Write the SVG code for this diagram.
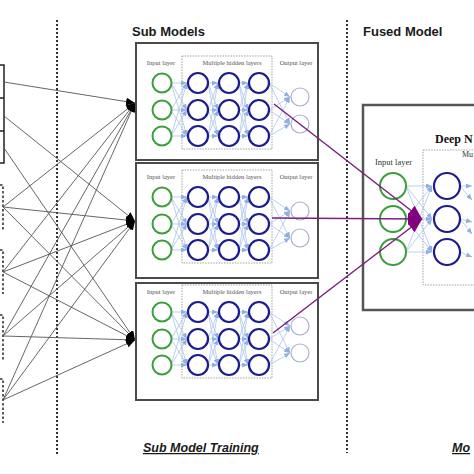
<svg xmlns="http://www.w3.org/2000/svg" xmlns:xlink="http://www.w3.org/1999/xlink" width="474" height="474" viewBox="0 0 474 474">
<style>
.bg{fill:#ffffff}
.title{font-family:"Liberation Sans",Arial,sans-serif;font-weight:bold;font-size:13px;fill:#1a1a1a}
.foot{font-family:"Liberation Sans",Arial,sans-serif;font-weight:bold;font-style:italic;font-size:12.5px;fill:#1a1a1a;text-decoration:underline}
.sep{stroke:#333;stroke-width:2;stroke-dasharray:2 2;fill:none}
.src{stroke:#222;stroke-width:1.5;fill:none}
.srcd{stroke:#333;stroke-width:1.6;stroke-dasharray:2.5 2;fill:none}
.box{fill:#fff;stroke:#4a4a4a;stroke-width:2}
.fbox{fill:#fff;stroke:#555;stroke-width:2.5}
.hbox{fill:none;stroke:#8a8a8a;stroke-width:0.8;stroke-dasharray:1.5 1.2}
.inp{fill:#fff;stroke:#3c9e3c;stroke-width:2}
.hid{fill:#fff;stroke:#1c1c8e;stroke-width:2.2}
.out{fill:#fff;stroke:#aab0cc;stroke-width:1.2}
.lbl{font-family:"Liberation Serif","Times New Roman",serif;font-size:6.5px;fill:#555;text-anchor:middle}
.flbl{font-family:"Liberation Serif","Times New Roman",serif;font-size:8.5px;fill:#333}
.ftitle{font-family:"Liberation Serif","Times New Roman",serif;font-weight:bold;font-size:12px;fill:#111}
.nn{stroke:#a9c3e8;stroke-width:0.8;fill:none;marker-end:url(#ab)}
.feed{stroke:#555;stroke-width:0.9;fill:none;marker-end:url(#ak)}
.fuse{stroke:#7d1f7d;stroke-width:1.5;fill:none;marker-end:url(#ap)}
</style>
<defs>
<marker id="ak" markerUnits="userSpaceOnUse" markerWidth="9" markerHeight="8" refX="9" refY="4" orient="auto">
<path d="M0,0 L9,4 L0,8 z" fill="#000"/>
</marker>
<marker id="ap" markerUnits="userSpaceOnUse" markerWidth="14" markerHeight="12" refX="14" refY="6" orient="auto">
<path d="M0,0 L14,6 L0,12 z" fill="#800080"/>
</marker>
<marker id="ab" markerUnits="userSpaceOnUse" markerWidth="6" markerHeight="5" refX="6" refY="2.5" orient="auto">
<path d="M0,0 L6,2.5 L0,5 z" fill="#8fb0e0"/>
</marker>
<g id="subnet">
<rect class="hbox" x="182" y="-27" width="90" height="93"/>
<text class="lbl" x="161" y="-18">Input layer</text>
<text class="lbl" x="232" y="-18">Multiple  hidden layers</text>
<text class="lbl" x="296" y="-18">Output layer</text>
<line class="nn" x1="171" y1="0" x2="187" y2="0"/><line class="nn" x1="171" y1="0" x2="187" y2="27"/><line class="nn" x1="171" y1="0" x2="187" y2="53"/>
<line class="nn" x1="171" y1="27" x2="187" y2="0"/><line class="nn" x1="171" y1="27" x2="187" y2="27"/><line class="nn" x1="171" y1="27" x2="187" y2="53"/>
<line class="nn" x1="171" y1="53" x2="187" y2="0"/><line class="nn" x1="171" y1="53" x2="187" y2="27"/><line class="nn" x1="171" y1="53" x2="187" y2="53"/>
<line class="nn" x1="208" y1="0" x2="218" y2="0"/><line class="nn" x1="208" y1="0" x2="218" y2="27"/><line class="nn" x1="208" y1="0" x2="218" y2="53"/>
<line class="nn" x1="208" y1="27" x2="218" y2="0"/><line class="nn" x1="208" y1="27" x2="218" y2="27"/><line class="nn" x1="208" y1="27" x2="218" y2="53"/>
<line class="nn" x1="208" y1="53" x2="218" y2="0"/><line class="nn" x1="208" y1="53" x2="218" y2="27"/><line class="nn" x1="208" y1="53" x2="218" y2="53"/>
<line class="nn" x1="239" y1="0" x2="248" y2="0"/><line class="nn" x1="239" y1="0" x2="248" y2="27"/><line class="nn" x1="239" y1="0" x2="248" y2="53"/>
<line class="nn" x1="239" y1="27" x2="248" y2="0"/><line class="nn" x1="239" y1="27" x2="248" y2="27"/><line class="nn" x1="239" y1="27" x2="248" y2="53"/>
<line class="nn" x1="239" y1="53" x2="248" y2="0"/><line class="nn" x1="239" y1="53" x2="248" y2="27"/><line class="nn" x1="239" y1="53" x2="248" y2="53"/>
<line class="nn" x1="269" y1="0" x2="290" y2="14"/><line class="nn" x1="269" y1="0" x2="290" y2="41"/>
<line class="nn" x1="269" y1="27" x2="290" y2="14"/><line class="nn" x1="269" y1="27" x2="290" y2="41"/>
<line class="nn" x1="269" y1="53" x2="290" y2="14"/><line class="nn" x1="269" y1="53" x2="290" y2="41"/>
<circle class="inp" cx="162" cy="0" r="9.5"/><circle class="inp" cx="162" cy="27" r="9.5"/><circle class="inp" cx="162" cy="53" r="9.5"/>
<circle class="hid" cx="198" cy="0" r="10"/><circle class="hid" cx="198" cy="27" r="10"/><circle class="hid" cx="198" cy="53" r="10"/>
<circle class="hid" cx="229" cy="0" r="10"/><circle class="hid" cx="229" cy="27" r="10"/><circle class="hid" cx="229" cy="53" r="10"/>
<circle class="hid" cx="259" cy="0" r="10"/><circle class="hid" cx="259" cy="27" r="10"/><circle class="hid" cx="259" cy="53" r="10"/>
<circle class="out" cx="300" cy="14" r="9"/><circle class="out" cx="300" cy="41" r="9"/>
</g>
</defs>
<rect class="bg" x="0" y="0" width="474" height="474"/>

<g id="separators">
<line class="sep" x1="57" y1="20" x2="57" y2="455"/>
<line class="sep" x1="347" y1="20" x2="347" y2="453"/>
</g>

<g id="titles">
<text class="title" x="132" y="36">Sub Models</text>
<text class="title" x="363" y="36">Fused Model</text>
<text class="foot" x="143" y="452">Sub Model Training</text>
<text class="foot" x="452" y="452">Mo</text>
</g>

<g id="source-box">
<rect class="src" x="-10" y="65" width="14" height="98"/>
<line class="src" x1="-10" y1="98" x2="4" y2="98"/>
<line class="src" x1="-10" y1="131" x2="4" y2="131"/>
</g>
<g id="source-1"><path class="srcd" d="M0,185 H3 V230"/></g>
<g id="source-2"><path class="srcd" d="M0,250 H3 V294"/></g>
<g id="source-3"><path class="srcd" d="M0,315 H3 V360"/></g>
<g id="source-4"><path class="srcd" d="M0,379 H3 V423"/></g>

<g id="submodel-1">
<rect class="box" x="136" y="43" width="182" height="117"/>
<use xlink:href="#subnet" href="#subnet" transform="translate(0,83)"/>
</g>
<g id="submodel-2">
<rect class="box" x="136" y="163" width="182" height="115"/>
<use xlink:href="#subnet" href="#subnet" transform="translate(0,197)"/>
</g>
<g id="submodel-3">
<rect class="box" x="136" y="283" width="182" height="117"/>
<use xlink:href="#subnet" href="#subnet" transform="translate(0,312)"/>
</g>

<g id="fused-model">
<rect class="fbox" x="363" y="105" width="140" height="205"/>
<text class="ftitle" x="435" y="143">Deep N</text>
<rect class="hbox" x="423" y="150" width="80" height="135"/>
<text class="flbl" x="462" y="157" style="font-size:8px">Mu</text>
<text class="flbl" x="375" y="165">Input layer</text>
<line class="nn" x1="406" y1="186" x2="432" y2="186"/><line class="nn" x1="406" y1="186" x2="432" y2="219"/><line class="nn" x1="406" y1="186" x2="432" y2="252"/>
<line class="nn" x1="406" y1="219" x2="432" y2="186"/><line class="nn" x1="406" y1="219" x2="432" y2="219"/><line class="nn" x1="406" y1="219" x2="432" y2="252"/>
<line class="nn" x1="406" y1="252" x2="432" y2="186"/><line class="nn" x1="406" y1="252" x2="432" y2="219"/><line class="nn" x1="406" y1="252" x2="432" y2="252"/>
<line class="nn" x1="460" y1="186" x2="472" y2="186"/><line class="nn" x1="460" y1="186" x2="472" y2="200"/>
<line class="nn" x1="460" y1="219" x2="472" y2="222"/><line class="nn" x1="460" y1="219" x2="472" y2="234"/>
<line class="nn" x1="460" y1="252" x2="472" y2="257"/>
<circle class="inp" cx="393" cy="186" r="13"/><circle class="inp" cx="393" cy="219" r="13"/><circle class="inp" cx="393" cy="252" r="13"/>
<circle class="hid" cx="447" cy="186" r="13"/><circle class="hid" cx="447" cy="219" r="13"/><circle class="hid" cx="447" cy="252" r="13"/>
</g>

<g id="connectors">
<line class="feed" x1="4" y1="82" x2="135" y2="103"/>
<line class="feed" x1="4" y1="116" x2="135" y2="221"/>
<line class="feed" x1="4" y1="148" x2="135" y2="340"/>
<line class="feed" x1="3" y1="207" x2="135" y2="103"/>
<line class="feed" x1="3" y1="207" x2="135" y2="221"/>
<line class="feed" x1="3" y1="207" x2="135" y2="340"/>
<line class="feed" x1="3" y1="272" x2="135" y2="103"/>
<line class="feed" x1="3" y1="272" x2="135" y2="221"/>
<line class="feed" x1="3" y1="272" x2="135" y2="340"/>
<line class="feed" x1="3" y1="336" x2="135" y2="103"/>
<line class="feed" x1="3" y1="336" x2="135" y2="221"/>
<line class="feed" x1="3" y1="336" x2="135" y2="340"/>
<line class="feed" x1="3" y1="400" x2="135" y2="103"/>
<line class="feed" x1="3" y1="400" x2="135" y2="221"/>
<line class="feed" x1="3" y1="400" x2="135" y2="340"/>
<line class="fuse" x1="274" y1="104" x2="422" y2="219"/>
<line class="fuse" x1="272" y1="218" x2="422" y2="219"/>
<line class="fuse" x1="273" y1="333" x2="422" y2="219"/>
</g>
</svg>
